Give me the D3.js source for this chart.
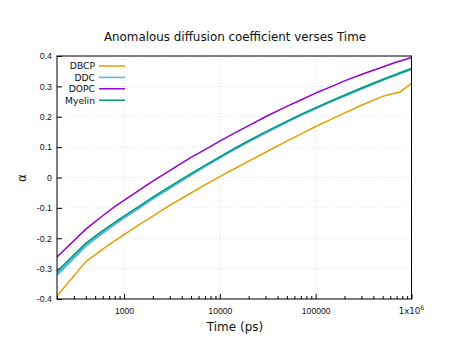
<!DOCTYPE html>
<html><head><meta charset="utf-8">
<script src="https://cdn.jsdelivr.net/npm/d3@7"></script>
<style>body{margin:0;background:#fff}svg{font-family:"DejaVu Sans",sans-serif}</style>
</head><body><svg id="c" width="474" height="355"></svg>
<script>
const times = [200,400,600,800,1000,1500,2000,3000,5000,7000,10000,15000,20000,30000,50000,70000,100000,150000,200000,300000,500000,600000,700000,750000,1000000];
const DBCP = [-0.390,-0.277,-0.236,-0.209,-0.188,-0.152,-0.127,-0.092,-0.051,-0.024,0.003,0.033,0.054,0.083,0.120,0.143,0.168,0.194,0.212,0.238,0.267,0.274,0.279,0.280,0.310];
const DDC = [-0.320,-0.224,-0.182,-0.153,-0.132,-0.095,-0.069,-0.034,0.009,0.037,0.066,0.098,0.119,0.148,0.183,0.206,0.228,0.253,0.270,0.293,0.322,0.332,0.339,0.343,0.358];
const DOPC = [-0.262,-0.170,-0.126,-0.096,-0.075,-0.038,-0.012,0.023,0.066,0.092,0.120,0.150,0.171,0.200,0.234,0.255,0.278,0.301,0.318,0.339,0.364,0.373,0.380,0.383,0.395];
const Myelin = [-0.310,-0.216,-0.175,-0.148,-0.127,-0.091,-0.065,-0.030,0.013,0.040,0.068,0.099,0.121,0.150,0.185,0.207,0.229,0.254,0.270,0.294,0.322,0.331,0.339,0.343,0.357];
const seriesNames = ["DBCP","DDC","DOPC","Myelin"];
const seriesColors = ["#e69f00","#56b4e9","#9400d3","#009e73"];
const yTicks = [-0.4,-0.3,-0.2,-0.1,0,0.1,0.2,0.3,0.4];
const xTicks = [1000,10000,100000,1000000];

const svg = d3.select("#c");
const L=57, R=411.5, T=56, B=299;
const x = d3.scaleLog().domain([200,1e6]).range([L,R]);
const y = d3.scaleLinear().domain([-0.4,0.4]).range([B,T]);

// grid
const g = svg.append("g");
xTicks.forEach(t=>g.append("line").attr("x1",x(t)).attr("x2",x(t)).attr("y1",T).attr("y2",B)
  .attr("stroke","#d8d8d8").attr("stroke-width",0.8).attr("stroke-dasharray","1,2"));
yTicks.forEach(t=>g.append("line").attr("x1",L).attr("x2",R).attr("y1",y(t)).attr("y2",y(t))
  .attr("stroke","#d8d8d8").attr("stroke-width",0.8).attr("stroke-dasharray","1,2"));

// axes
const xMinor = [];
for (let d=100; d<1e6; d*=10) for (let k=2;k<=9;k++){const v=d*k; if(v>=200&&v<=1e6) xMinor.push(v);}
const xa = svg.append("g").attr("transform",`translate(0,${B})`)
  .call(d3.axisBottom(x).tickValues(xTicks).tickSizeInner(-5).tickSizeOuter(0)
    .tickFormat(d=>d===1e6?"":d3.format("d")(d)));
xa.selectAll("text").attr("y",15.3).attr("dy",0).attr("font-size","8.6px").attr("fill","#111");
xa.select(".domain").remove();
svg.append("g").attr("transform",`translate(0,${B})`)
  .call(d3.axisBottom(x).tickValues(xMinor).tickSizeInner(-3).tickSizeOuter(0).tickFormat(""))
  .select(".domain").remove();
const lab = svg.append("text").attr("x",x(1e6)).attr("y",B+15.3).attr("text-anchor","middle")
  .attr("font-size","8.6px").attr("fill","#111");
lab.append("tspan").text("1x10");
lab.append("tspan").attr("dy",-4).attr("font-size","6.2px").text("6");

const ya = svg.append("g").attr("transform",`translate(${L},0)`)
  .call(d3.axisLeft(y).tickValues(yTicks).tickSizeInner(-5).tickSizeOuter(0)
    .tickFormat(d=>d===0?"0":d3.format(".1f")(d).replace("−","-")));
ya.selectAll("text").attr("x",-5).attr("font-size","8.8px").attr("fill","#111");
ya.select(".domain").remove();

// data lines
const data = [DBCP,DDC,DOPC,Myelin];
const line = d3.line().x((d,i)=>x(times[i])).y(d=>y(d));
svg.append("clipPath").attr("id","cp").append("rect").attr("x",L).attr("y",T).attr("width",R-L).attr("height",B-T);
[0,1,3,2].forEach(i=>{
  svg.append("path").datum(data[i]).attr("d",line).attr("fill","none")
    .attr("clip-path","url(#cp)").attr("stroke-linejoin","round")
    .attr("stroke",seriesColors[i]).attr("stroke-width", i===1?2.6:1.5);
});

// border
svg.append("rect").attr("x",L).attr("y",T).attr("width",R-L).attr("height",B-T)
  .attr("fill","none").attr("stroke","#000").attr("stroke-width",1);

// legend
seriesNames.forEach((n,i)=>{
  const yy = 66 + i*11.4;
  svg.append("text").attr("x",95).attr("y",yy+3.3).attr("text-anchor","end")
    .attr("font-size","9.2px").attr("fill","#111").text(n);
  svg.append("line").attr("x1",99).attr("x2",125).attr("y1",yy).attr("y2",yy)
    .attr("stroke",seriesColors[i]).attr("stroke-width",1.5);
});

// titles
svg.append("text").attr("x",235).attr("y",41).attr("text-anchor","middle")
  .attr("font-size","11.9px").attr("fill","#111").text("Anomalous diffusion coefficient verses Time");
svg.append("text").attr("x",235).attr("y",331).attr("text-anchor","middle")
  .attr("font-size","12px").attr("fill","#111").text("Time (ps)");
svg.append("text").attr("transform","translate(26,178) rotate(-90)").attr("text-anchor","middle")
  .attr("font-size","12px").attr("fill","#111").text("α");
</script></body></html>
